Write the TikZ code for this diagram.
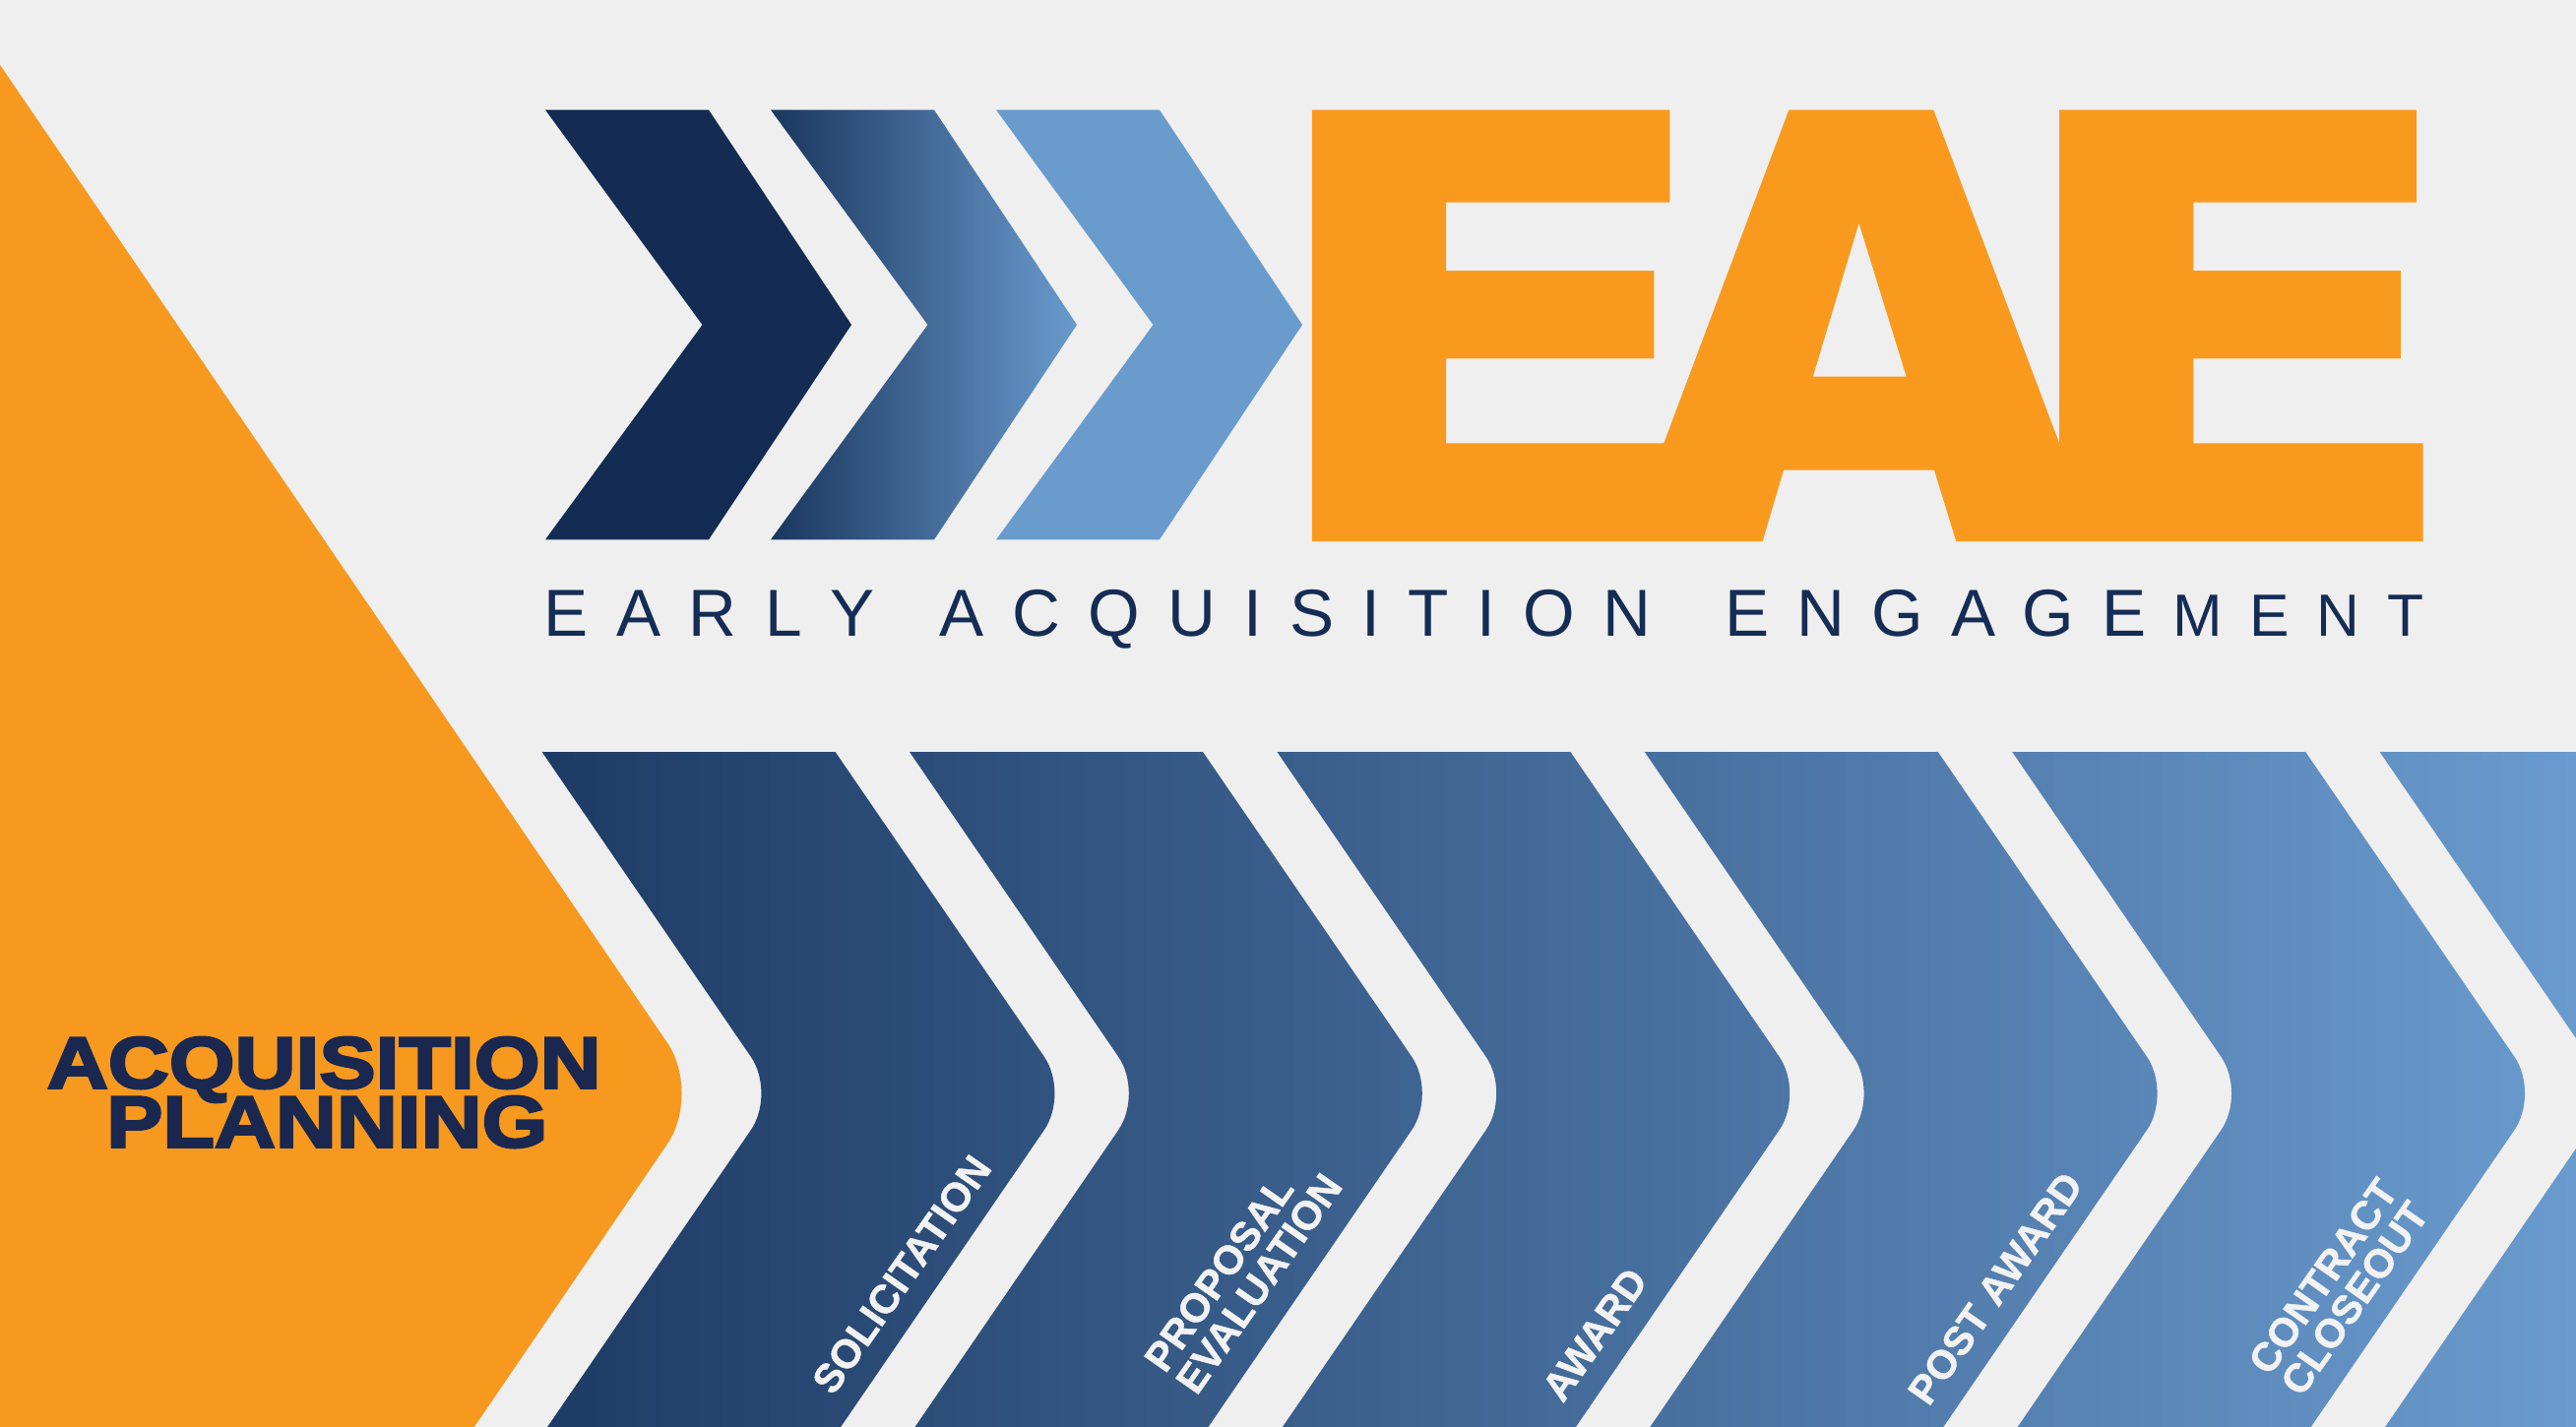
\documentclass[tikz,border=0pt]{standalone}
\usepackage{fontspec}
\setmainfont{Liberation Sans}
\newfontfamily\apfont{Liberation Sans}[FakeStretch=1.16, BoldFeatures={FakeBold=3.5}]
\newfontfamily\lblfont{Liberation Sans}[BoldFeatures={FakeBold=1}]
\definecolor{bg}{HTML}{EFEFEF}
\definecolor{orng}{HTML}{F7991F}
\definecolor{eaeorng}{HTML}{F99A1F}
\definecolor{navy}{HTML}{142C53}
\definecolor{navytxt}{HTML}{152C55}
\definecolor{sky}{HTML}{699BCD}
\definecolor{cleft}{HTML}{1A365F}
\definecolor{blA}{HTML}{1E3B65}
\definecolor{blB}{HTML}{4A79AA}
\definecolor{blC}{HTML}{6A9BCE}
\definecolor{apnavy}{HTML}{1A2850}
\definecolor{lblwhite}{HTML}{F2F2F2}
\makeatletter
\newcommand\spreadtext[2]{\def\spr@gap{#1}\let\spr@first\relax
  \@tfor\spr@c:=#2\do{\spr@first\spr@c\def\spr@first{\hspace{\spr@gap}}}}
\makeatother
\tikzset{
  subtitle/.style={inner sep=0, text=navytxt, anchor=base west, font=\fontsize{67.6}{68}\selectfont},
  aptext/.style={inner sep=0, text=apnavy, anchor=base, font=\apfont\bfseries\fontsize{74}{60}\selectfont},
  phase/.style={inner sep=0, text=lblwhite, rotate=55, font=\lblfont\bfseries\fontsize{41}{39}\selectfont}
}
\begin{document}
\begin{tikzpicture}[x=1pt,y=-1pt]
\useasboundingbox (0,0) rectangle (2617,1450);
\clip (0,0) rectangle (2617,1450);
\fill[bg] (-5,-5) rectangle (2622,1455);

% left orange shape
\fill[orng] (-10,51.3) -- (678.1,1059.8) .. controls (697.3,1088) and (697.3,1134) .. (678.1,1162.2)
  -- (476.3,1458) -- (-10,1458) -- cycle;

% top chevrons
\fill[navy] (554,111.7) -- (720,111.7) -- (865,330) -- (720,548.3) -- (554,548.3) -- (713.5,330) -- cycle;
\shade[left color=cleft, right color=sky] (783,111.7) -- (949,111.7) -- (1094,330) -- (949,548.3) -- (783,548.3) -- (942.5,330) -- cycle;
\fill[sky] (1012,111.7) -- (1178,111.7) -- (1323,330) -- (1178,548.3) -- (1012,548.3) -- (1171.5,330) -- cycle;

% EAE letters
\fill[eaeorng, even odd rule] (1332.9,111.7) -- (1696.4,111.7) -- (1696.4,205.7) -- (1469.1,205.7)
  -- (1469.1,275) -- (1680.4,275) -- (1680.4,364.3) -- (1469.1,364.3) -- (1469.1,450.3)
  -- (1690.3,450.3) -- (1817.3,111.7) -- (1964.3,111.7) -- (2092.1,450.3) -- (2092.1,111.7)
  -- (2454.8,111.7) -- (2454.8,205.7) -- (2228.3,205.7) -- (2228.3,275) -- (2438.8,275)
  -- (2438.8,364.3) -- (2228.3,364.3) -- (2228.3,450.3) -- (2461.7,450.3) -- (2461.7,550)
  -- (1987.2,550) -- (1965,477.7) -- (1812,477.7) -- (1790.6,550) -- (1332.9,550) -- cycle
  (1888.5,226.7) -- (1936.7,382.7) -- (1841.8,382.7) -- cycle;

% subtitle
\node[subtitle] (w1) at (552.6,646.7) {\spreadtext{28.5pt}{EARLY}};
\node[subtitle] (w2) at (954.6,646.7) {\spreadtext{28.3pt}{ACQUISITION}};
\node[subtitle] (w3) at (1752.7,646.7) {\spreadtext{27.6pt}{ENGAGE}\hspace{27.6pt}{\fontsize{60.6}{60}\selectfont\spreadtext{27.6pt}{MENT}}};

% bottom chevrons with continuous gradient
\begin{scope}
\clip \foreach \L in {550.6,924,1297.4,1670.8,2044.2,2417.6} {
  (\L,764) -- ({\L+298},764) -- ({\L+510.3},1073.9)
  .. controls ({\L+524.3},1094.3) and ({\L+524.3},1127.7) .. ({\L+510.3},1148.1)
  -- ({\L+298},1458) -- (\L,1458) -- ({\L+212.3},1148.1)
  .. controls ({\L+226.3},1127.7) and ({\L+226.3},1094.3) .. ({\L+212.3},1073.9) -- cycle };
\shade[left color=blA, middle color=blB, right color=blC] (550,760) rectangle (2617,1460);
\end{scope}

% acquisition planning
\node[aptext] (ap1) at (329.2,1105.5) {ACQUISITION};
\node[aptext] (ap2) at (332.3,1165.5) {PLANNING};

% phase labels
\node[phase] (solic) at (916,1295) {SOLICITATION};
\node[phase, align=left] (prop) at (1263,1293) {PROPOSAL\\EVALUATION};
\node[phase] (award) at (1620,1356) {AWARD};
\node[phase] (post) at (2027,1309) {POST AWARD};
\node[phase, align=center] (close) at (2376,1308) {CONTRACT\\CLOSEOUT};
\end{tikzpicture}
\end{document}
